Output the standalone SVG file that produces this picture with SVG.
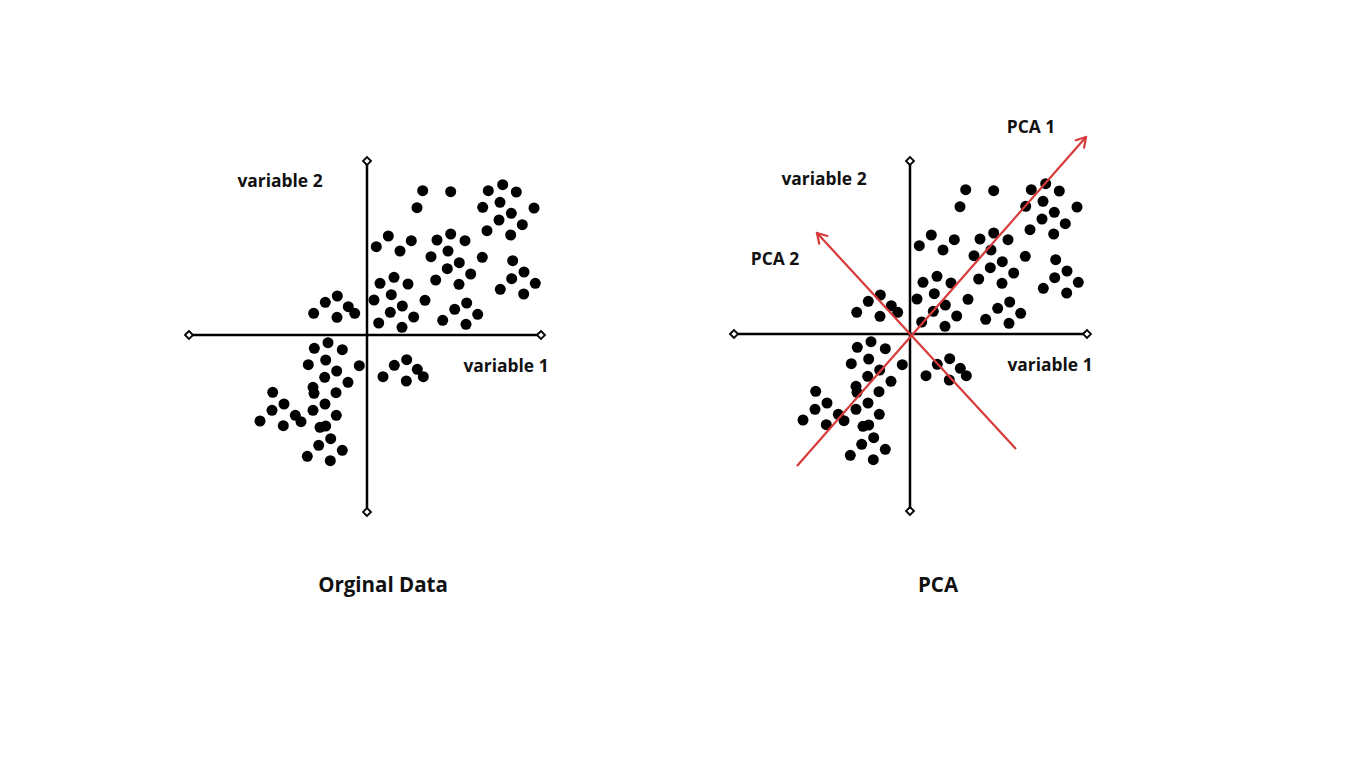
<svg xmlns="http://www.w3.org/2000/svg" xmlns:xlink="http://www.w3.org/1999/xlink" width="1358" height="764" viewBox="0 0 1358 764">
<style>
.ax{stroke:#000;stroke-width:2.5;fill:none}
.pc{stroke:#d63a3a;stroke-width:2.2;fill:none}
text{font-family:"Open Sans","Liberation Sans",sans-serif;font-weight:700;fill:#111;text-anchor:middle}
.l{font-size:17.4px}.t{font-size:20.5px}
circle{fill:#000}
</style>
<defs>
<marker id="dm" viewBox="-6 -6 12 12" markerWidth="12" markerHeight="12" refX="0" refY="0" markerUnits="userSpaceOnUse" orient="auto"><path d="M-4,0 L0,-4 L4,0 L0,4Z" fill="#fff" stroke="#000" stroke-width="1.8"/></marker>
<marker id="ar" viewBox="-12 -8 14 16" markerWidth="14" markerHeight="16" refX="0" refY="0" markerUnits="userSpaceOnUse" orient="auto"><path d="M-10,-6 L0,0 L-10,6" fill="none" stroke="#d63a3a" stroke-width="2.2"/></marker>
<g id="dots">
<circle cx="422.7" cy="190.7" r="5.5"/><circle cx="450.7" cy="191.7" r="5.5"/><circle cx="417" cy="207.7" r="5.5"/><circle cx="488.3" cy="190.7" r="5.5"/><circle cx="502.7" cy="184.7" r="5.5"/><circle cx="516.3" cy="192" r="5.5"/><circle cx="500" cy="202.3" r="5.5"/><circle cx="482.7" cy="207.3" r="5.5"/><circle cx="534" cy="208" r="5.5"/><circle cx="511.3" cy="213.3" r="5.5"/><circle cx="499" cy="220" r="5.5"/><circle cx="522.3" cy="224.7" r="5.5"/><circle cx="487" cy="230.7" r="5.5"/><circle cx="510.7" cy="235" r="5.5"/><circle cx="388.3" cy="236" r="5.5"/><circle cx="376.3" cy="246.7" r="5.5"/><circle cx="400" cy="251" r="5.5"/><circle cx="411.3" cy="240.7" r="5.5"/><circle cx="437" cy="240" r="5.5"/><circle cx="450.7" cy="234" r="5.5"/><circle cx="465" cy="240.7" r="5.5"/><circle cx="448" cy="251" r="5.5"/><circle cx="431" cy="256.7" r="5.5"/><circle cx="459.3" cy="262.7" r="5.5"/><circle cx="482.3" cy="257.3" r="5.5"/><circle cx="512.7" cy="260.7" r="5.5"/><circle cx="524" cy="272" r="5.5"/><circle cx="511.7" cy="278.7" r="5.5"/><circle cx="535.3" cy="283.3" r="5.5"/><circle cx="500.3" cy="289.3" r="5.5"/><circle cx="523.7" cy="294" r="5.5"/><circle cx="447.3" cy="268.7" r="5.5"/><circle cx="470.7" cy="274" r="5.5"/><circle cx="435.7" cy="280" r="5.5"/><circle cx="459" cy="284.3" r="5.5"/><circle cx="394" cy="277.3" r="5.5"/><circle cx="380" cy="283.3" r="5.5"/><circle cx="408" cy="284" r="5.5"/><circle cx="391.3" cy="294.7" r="5.5"/><circle cx="374" cy="300" r="5.5"/><circle cx="425" cy="300.3" r="5.5"/><circle cx="402.3" cy="306" r="5.5"/><circle cx="390.3" cy="312.3" r="5.5"/><circle cx="413.7" cy="317" r="5.5"/><circle cx="378.7" cy="323" r="5.5"/><circle cx="402" cy="327.3" r="5.5"/><circle cx="442.7" cy="320.3" r="5.5"/><circle cx="454.7" cy="309.3" r="5.5"/><circle cx="466.7" cy="303" r="5.5"/><circle cx="477.7" cy="314.3" r="5.5"/><circle cx="466" cy="324.3" r="5.5"/><circle cx="337.3" cy="296" r="5.5"/><circle cx="325.3" cy="302.3" r="5.5"/><circle cx="348.3" cy="306.7" r="5.5"/><circle cx="354.7" cy="313.3" r="5.5"/><circle cx="313.7" cy="313.3" r="5.5"/><circle cx="337" cy="317.3" r="5.5"/>
<circle cx="328" cy="342.7" r="5.5"/><circle cx="314.3" cy="348.3" r="5.5"/><circle cx="342.3" cy="349.7" r="5.5"/><circle cx="308.3" cy="364.7" r="5.5"/><circle cx="325.7" cy="360" r="5.5"/><circle cx="359.3" cy="365.7" r="5.5"/><circle cx="336.7" cy="371" r="5.5"/><circle cx="324.7" cy="377.3" r="5.5"/><circle cx="348" cy="382.3" r="5.5"/><circle cx="313" cy="387.3" r="5.5"/><circle cx="314" cy="393.3" r="5.5"/><circle cx="336" cy="392.7" r="5.5"/><circle cx="272.7" cy="392.3" r="5.5"/><circle cx="284" cy="404" r="5.5"/><circle cx="272" cy="410.3" r="5.5"/><circle cx="325" cy="404" r="5.5"/><circle cx="313" cy="410.3" r="5.5"/><circle cx="295.3" cy="415.3" r="5.5"/><circle cx="301" cy="421.7" r="5.5"/><circle cx="260" cy="421" r="5.5"/><circle cx="283.3" cy="425.7" r="5.5"/><circle cx="336.3" cy="415.3" r="5.5"/><circle cx="320" cy="427.3" r="5.5"/><circle cx="325.7" cy="426" r="5.5"/><circle cx="330.7" cy="438.7" r="5.5"/><circle cx="318.7" cy="445.3" r="5.5"/><circle cx="342.3" cy="450.3" r="5.5"/><circle cx="307.3" cy="456.3" r="5.5"/><circle cx="330.3" cy="460.7" r="5.5"/><circle cx="394.3" cy="365.3" r="5.5"/><circle cx="406.7" cy="359.7" r="5.5"/><circle cx="417.3" cy="369.3" r="5.5"/><circle cx="423.3" cy="376.7" r="5.5"/><circle cx="383" cy="376.7" r="5.5"/><circle cx="406.3" cy="381" r="5.5"/>
</g>
</defs>
<g id="original">
<line class="ax" x1="189" y1="335" x2="541" y2="335" marker-start="url(#dm)" marker-end="url(#dm)"/>
<line class="ax" x1="367" y1="512" x2="367" y2="161" marker-start="url(#dm)" marker-end="url(#dm)"/>
<use xlink:href="#dots"/>
<text class="l" x="280" y="187">variable 2</text>
<text class="l" x="506" y="372">variable 1</text>
<text class="t" x="383" y="592">Orginal Data</text>
</g>
<g id="pca">
<line class="ax" x1="734" y1="334" x2="1087" y2="334" marker-start="url(#dm)" marker-end="url(#dm)"/>
<line class="ax" x1="910" y1="511" x2="910" y2="161" marker-start="url(#dm)" marker-end="url(#dm)"/>
<use xlink:href="#dots" transform="translate(543,-1)"/>
<text class="l" x="824" y="185">variable 2</text>
<text class="l" x="1050" y="371">variable 1</text>
<text class="l" x="1031" y="133">PCA 1</text>
<text class="l" x="775" y="265">PCA 2</text>
<text class="t" x="938" y="592">PCA</text>
</g>
<g id="connectors">
<line class="pc" x1="797" y1="466" x2="1086" y2="137" marker-end="url(#ar)"/>
<line class="pc" x1="1016" y1="449" x2="817" y2="233" marker-end="url(#ar)"/>
</g>
</svg>
